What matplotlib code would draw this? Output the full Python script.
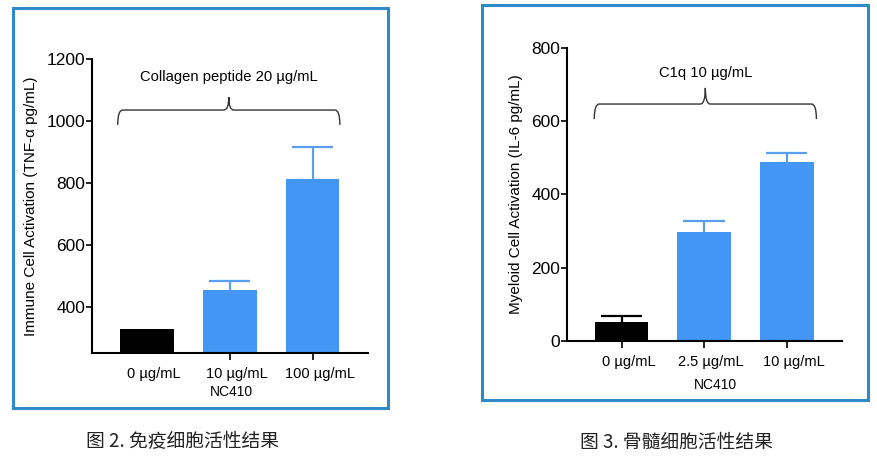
import matplotlib
matplotlib.use("Agg")
import matplotlib.pyplot as plt
from matplotlib.path import Path
from matplotlib.patches import PathPatch, Rectangle
import matplotlib.transforms as mtransforms

plt.rcParams['font.family'] = ['Liberation Sans', 'Noto Sans CJK SC', 'DejaVu Sans']

# data
left_labels = ['0 µg/mL', '10 µg/mL', '100 µg/mL']
left_values = [326, 452, 813]
left_err = [0, 30, 102]

right_labels = ['0 µg/mL', '2.5 µg/mL', '10 µg/mL']
right_values = [53, 297, 490]
right_err = [14, 31, 24]

bar_colors = ['#000000', '#4496f5', '#4496f5']
err_colors = ['#000000', '#5a9eef', '#5a9eef']


def brace(ax, x0, x1, y, y_end, y_peak, dx=0.06):
    xm = (x0 + x1) / 2
    verts = [(x0, y_end), (x0, y), (x0 + dx, y),
             (xm - dx, y), (xm, y), (xm, y_peak),
             (xm, y), (xm + dx, y),
             (x1 - dx, y), (x1, y), (x1, y_end)]
    codes = [Path.MOVETO, Path.CURVE3, Path.CURVE3,
             Path.LINETO, Path.CURVE3, Path.CURVE3,
             Path.CURVE3, Path.CURVE3,
             Path.LINETO, Path.CURVE3, Path.CURVE3]
    ax.add_patch(PathPatch(Path(verts, codes), facecolor='none',
                           edgecolor='#333333', lw=1.0, clip_on=False))


def panel(ax, labels, values, errs, ylim, yticks, ylabel, note, br, hide_first_tick, nc_off):
    x = list(range(len(values)))
    ax.bar(x, values, width=0.65, color=bar_colors, zorder=2)
    # upper error bars only, no cap at the bar top
    for xi, v, e, c in zip(x, values, errs, err_colors):
        if e > 0:
            ax.vlines(xi, v, v + e, color=c, lw=1.6, zorder=1)
            ax.hlines(v + e, xi - 0.25, xi + 0.25, color=c, lw=1.6, zorder=1)
    ax.set_xlim(-0.66, 2.67)
    ax.set_ylim(*ylim)
    ax.set_yticks(yticks)
    ax.set_xticks(x)
    ax.set_xticklabels(labels, fontsize=10.5)
    ax.tick_params(axis='y', labelsize=12.5, length=4, width=1.2, pad=1)
    ax.tick_params(axis='x', length=5, width=1.2, pad=5)
    off = mtransforms.ScaledTranslation(0.07, 0, ax.figure.dpi_scale_trans)
    for lab in ax.get_xticklabels():
        lab.set_transform(lab.get_transform() + off)
    if hide_first_tick:
        ax.xaxis.get_major_ticks()[0].tick1line.set_visible(False)
    for s in ['top', 'right']:
        ax.spines[s].set_visible(False)
    for s in ['left', 'bottom']:
        ax.spines[s].set_linewidth(1.5)
    ax.set_ylabel(ylabel, fontsize=11, labelpad=6)
    ax.annotate('NC410', xy=(1, 0), xycoords=('data', 'axes fraction'),
                xytext=nc_off, textcoords='offset points',
                ha='center', va='center', fontsize=10)
    x0, x1, y, y_end, y_peak, y_txt = br
    brace(ax, x0, x1, y, y_end, y_peak)
    ax.text((x0 + x1) / 2, y_txt, note, ha='center', va='center', fontsize=10.6)


fig = plt.figure(figsize=(8.78, 4.58), dpi=100)

ax1 = fig.add_axes([0.1048, 0.2293, 0.3144, 0.6419])
panel(ax1, left_labels, left_values, left_err, (250, 1200), [400, 600, 800, 1000, 1200],
      'Immune Cell Activation (TNF-α pg/mL)', 'Collagen peptide 20 µg/mL',
      (-0.35, 2.33, 1035, 987, 1077, 1142), True, (1, -28))

ax2 = fig.add_axes([0.6458, 0.2555, 0.3132, 0.6397])
panel(ax2, right_labels, right_values, right_err, (0, 800), [0, 200, 400, 600, 800],
      'Myeloid Cell Activation (IL-6 pg/mL)', 'C1q 10 µg/mL',
      (-0.33, 2.36, 647, 606, 691, 732), False, (8, -32))

# blue frames round the two panels
fig.add_artist(Rectangle((0.0148, 0.109), 0.427, 0.873, transform=fig.transFigure,
                         fill=False, edgecolor='#2f8ac8', lw=2.2))
fig.add_artist(Rectangle((0.549, 0.1266), 0.4396, 0.8624, transform=fig.transFigure,
                         fill=False, edgecolor='#2f8ac8', lw=2.2))

fig.text(0.0985, 0.035, '图 2. 免疫细胞活性结果', fontsize=13.5, color='#222222',
         family=['Noto Sans CJK SC', 'DejaVu Sans'], va='center', ha='left')
fig.text(0.661, 0.035, '图 3. 骨髓细胞活性结果', fontsize=13.5, color='#222222',
         family=['Noto Sans CJK SC', 'DejaVu Sans'], va='center', ha='left')

plt.savefig("out.png", dpi=100)
